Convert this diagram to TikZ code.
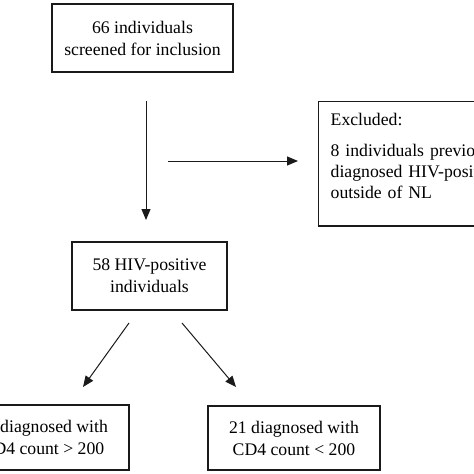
\documentclass[tikz,border=0pt]{standalone}
\usepackage{fontspec}
\setmainfont{Liberation Serif}
\usepackage{tikz}
\usetikzlibrary{
  arrows.meta,
  positioning,
  calc
}
\definecolor{fcLine}{HTML}{1A1A1A}
\tikzset{
  fcnode/.style={
    draw=fcLine, line width=1.4pt, inner sep=0pt,
    font=\fontsize{17.7}{22}\selectfont, align=center
  },
  fcbox/.style={fcnode, minimum width=#1},
  fcbox/.default=172pt,
  exclbox/.style={
    draw=fcLine, line width=1.4pt, inner xsep=12pt, inner ysep=12pt,
    font=\fontsize{17.7}{21}\selectfont, align=left, text width=190pt,
    anchor=north west
  },
  fcarrow/.style={-{Triangle[length=11pt, width=9pt]}, line width=1pt, fcLine}
}

\begin{document}
\begin{tikzpicture}[x=1pt, y=-1pt]
  \useasboundingbox (0,0) rectangle (474,474);
  \node[fcbox=181pt, minimum height=68pt] (screen) at (142.5,38) {66 individuals\\screened for inclusion};
  \node[exclbox] (excl) at (318,101) {Excluded:\\[10pt]8 individuals previously\\diagnosed HIV-positive\\outside of NL\rule[-15pt]{0pt}{15pt}};
  \node[fcbox=155pt, minimum height=68pt] (hiv) at (149.5,276) {58 HIV-positive\\individuals};
  \node[fcbox, minimum height=65pt] (cdhigh) at (43,437.5) {37 diagnosed with\\CD4 count > 200};
  \node[fcbox, minimum height=64pt] (cdlow) at (294,438) {21 diagnosed with\\CD4 count < 200};
  % free arrow ends
  \coordinate (vtop) at (146,101);
  \coordinate (vtip) at (146,220);
  \coordinate (htail) at (168,161);
  \coordinate (htip) at (298,161);
  \coordinate (ltail) at (129,323);
  \coordinate (ltip) at (83,387);
  \coordinate (rtail) at (182,323);
  \coordinate (rtip) at (236,387);
  \draw[fcarrow] (vtop) -- (vtip);
  \draw[fcarrow] (htail) -- (htip);
  \draw[fcarrow] (ltail) -- (ltip);
  \draw[fcarrow] (rtail) -- (rtip);
\end{tikzpicture}
\end{document}
